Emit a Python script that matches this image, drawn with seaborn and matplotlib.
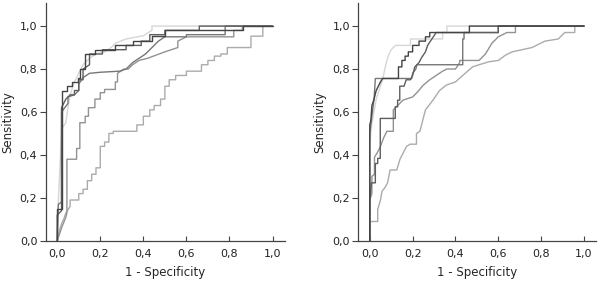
import numpy as np
import pandas as pd
import matplotlib
matplotlib.use("Agg")
import matplotlib.pyplot as plt
import seaborn as sns

# --- dados (ROC) ---
ticks = [0.0, 0.2, 0.4, 0.6, 0.8, 1.0]
tick_labels = ["0,0", "0,2", "0,4", "0,6", "0,8", "1,0"]

# painel esquerdo
esq_a_x = [0, 0, 0.02, 0.02, 0.045, 0.045, 0.07, 0.07, 0.095, 0.095, 0.105, 0.105, 0.128, 0.128,
           0.175, 0.175, 0.27, 0.27, 0.35, 0.35, 0.44, 0.44, 0.50, 0.50, 0.865, 0.865, 1.0]
esq_a_y = [0, 0.15, 0.15, 0.70, 0.70, 0.72, 0.72, 0.74, 0.74, 0.76, 0.76, 0.80, 0.80, 0.87,
           0.87, 0.89, 0.89, 0.91, 0.91, 0.93, 0.93, 0.955, 0.955, 0.98, 0.98, 1.0, 1.0]

esq_b_x = [0, 0, 0.02, 0.02, 0.04, 0.06, 0.08, 0.08, 0.10, 0.10, 0.12, 0.12, 0.15, 0.15,
           0.21, 0.21, 0.32, 0.32, 0.39, 0.39, 0.43, 0.43, 0.50, 0.50, 0.66, 0.66, 1.0]
esq_b_y = [0, 0.12, 0.14, 0.62, 0.66, 0.68, 0.68, 0.70, 0.70, 0.75, 0.75, 0.80, 0.82, 0.87,
           0.87, 0.89, 0.89, 0.91, 0.91, 0.93, 0.93, 0.96, 0.96, 0.98, 0.98, 1.0, 1.0]

esq_c_x = [0, 0.005, 0.02, 0.02, 0.05, 0.05, 0.08, 0.10, 0.10, 0.12, 0.15, 0.20, 0.29, 0.32,
           0.35, 0.38, 0.41, 0.44, 0.47, 0.50, 0.60, 0.60, 0.78, 0.78, 1.0]
esq_c_y = [0, 0.17, 0.18, 0.60, 0.64, 0.67, 0.68, 0.70, 0.73, 0.76, 0.78, 0.785, 0.79, 0.80,
           0.83, 0.85, 0.87, 0.90, 0.93, 0.95, 0.95, 0.96, 0.96, 1.0, 1.0]

esq_d_x = [0, 0.02, 0.04, 0.045, 0.045, 0.09, 0.09, 0.105, 0.105, 0.13, 0.13, 0.145, 0.145,
           0.175, 0.175, 0.2, 0.2, 0.22, 0.22, 0.27, 0.27, 0.28, 0.28, 0.31, 0.33, 0.35, 0.38,
           0.42, 0.46, 0.5, 0.53, 0.56, 0.56, 0.6, 0.82, 0.82, 0.86, 0.86, 1.0]
esq_d_y = [0, 0.06, 0.11, 0.13, 0.38, 0.38, 0.43, 0.43, 0.55, 0.55, 0.58, 0.58, 0.62,
           0.62, 0.66, 0.66, 0.69, 0.69, 0.705, 0.705, 0.74, 0.74, 0.78, 0.80, 0.80, 0.82, 0.84,
           0.85, 0.865, 0.88, 0.89, 0.90, 0.93, 0.95, 0.95, 0.98, 0.98, 1.0, 1.0]

esq_e_x = [0, 0.005, 0.02, 0.03, 0.04, 0.06, 0.06, 0.10, 0.10, 0.12, 0.12, 0.14, 0.14, 0.16,
           0.16, 0.18, 0.18, 0.20, 0.20, 0.22, 0.22, 0.24, 0.24, 0.26, 0.26, 0.37, 0.37, 0.40,
           0.40, 0.43, 0.43, 0.45, 0.45, 0.48, 0.48, 0.50, 0.50, 0.52, 0.52, 0.55, 0.55, 0.60,
           0.60, 0.67, 0.67, 0.70, 0.70, 0.73, 0.73, 0.76, 0.76, 0.79, 0.79, 0.81, 0.81, 0.90,
           0.90, 0.955, 0.955, 1.0]
esq_e_y = [0, 0.03, 0.08, 0.10, 0.13, 0.16, 0.19, 0.19, 0.22, 0.22, 0.24, 0.24, 0.28, 0.28,
           0.31, 0.31, 0.34, 0.34, 0.44, 0.44, 0.46, 0.46, 0.50, 0.50, 0.51, 0.51, 0.54, 0.54,
           0.58, 0.58, 0.61, 0.61, 0.63, 0.63, 0.66, 0.66, 0.72, 0.72, 0.75, 0.75, 0.77, 0.77,
           0.79, 0.79, 0.82, 0.82, 0.84, 0.84, 0.86, 0.86, 0.87, 0.87, 0.90, 0.90, 0.90, 0.90,
           0.953, 0.953, 1.0, 1.0]

esq_f_x = [0, 0.005, 0.02, 0.02, 0.04, 0.05, 0.06, 0.08, 0.10, 0.12, 0.15, 0.18, 0.22, 0.25,
           0.27, 0.32, 0.40, 0.44, 0.44, 1.0]
esq_f_y = [0, 0.18, 0.50, 0.52, 0.55, 0.62, 0.68, 0.74, 0.78, 0.82, 0.85, 0.87, 0.88, 0.90,
           0.92, 0.94, 0.955, 0.98, 1.0, 1.0]

# painel direito
dir_a_x = [0, 0, 0.005, 0.01, 0.02, 0.03, 0.04, 0.05, 0.06, 0.134, 0.134, 0.15, 0.15, 0.165,
           0.165, 0.18, 0.18, 0.20, 0.20, 0.23, 0.23, 0.26, 0.26, 0.28, 0.28, 0.465, 0.465, 1.0]
dir_a_y = [0, 0.54, 0.56, 0.63, 0.66, 0.70, 0.72, 0.74, 0.756, 0.756, 0.81, 0.81, 0.84, 0.84,
           0.86, 0.86, 0.88, 0.88, 0.91, 0.91, 0.93, 0.93, 0.95, 0.95, 0.97, 0.97, 1.0, 1.0]

dir_b_x = [0, 0, 0.01, 0.02, 0.026, 0.196, 0.20, 0.215, 0.22, 0.434, 0.434, 0.44, 0.44, 0.60,
           0.60, 1.0]
dir_b_y = [0, 0.50, 0.58, 0.66, 0.756, 0.756, 0.78, 0.80, 0.82, 0.82, 0.94, 0.94, 0.97, 0.97,
           1.0, 1.0]

dir_c_x = [0, 0, 0.008, 0.026, 0.026, 0.037, 0.037, 0.049, 0.049, 0.119, 0.119, 0.13, 0.13,
           0.14, 0.14, 0.16, 0.17, 0.19, 0.20, 0.21, 0.23, 0.24, 0.26, 0.27, 0.29, 0.31, 0.60,
           0.60, 1.0]
dir_c_y = [0, 0.19, 0.27, 0.27, 0.36, 0.36, 0.384, 0.384, 0.57, 0.57, 0.624, 0.624, 0.655,
           0.655, 0.72, 0.72, 0.75, 0.75, 0.77, 0.81, 0.83, 0.85, 0.88, 0.91, 0.94, 0.97, 0.97,
           1.0, 1.0]

dir_d_x = [0, 0, 0.01, 0.01, 0.022, 0.022, 0.035, 0.05, 0.065, 0.08, 0.11, 0.11, 0.14, 0.155,
           0.17, 0.2, 0.22, 0.25, 0.28, 0.31, 0.34, 0.36, 0.40, 0.42, 0.42, 0.51, 0.54, 0.57,
           0.60, 0.64, 0.68, 0.68, 1.0]
dir_d_y = [0, 0.19, 0.22, 0.30, 0.31, 0.39, 0.41, 0.44, 0.48, 0.51, 0.51, 0.61, 0.64, 0.655,
           0.66, 0.67, 0.69, 0.725, 0.75, 0.77, 0.79, 0.80, 0.80, 0.83, 0.84, 0.84, 0.87, 0.92,
           0.95, 0.97, 0.97, 1.0, 1.0]

dir_e_x = [0, 0, 0.037, 0.037, 0.05, 0.057, 0.072, 0.083, 0.095, 0.126, 0.141, 0.172, 0.188,
           0.218, 0.218, 0.234, 0.26, 0.295, 0.326, 0.357, 0.40, 0.434, 0.48, 0.51, 0.557,
           0.60, 0.634, 0.665, 0.757, 0.818, 0.88, 0.91, 0.957, 0.957, 1.0]
dir_e_y = [0, 0.09, 0.09, 0.146, 0.19, 0.23, 0.25, 0.27, 0.33, 0.33, 0.38, 0.44, 0.45,
           0.45, 0.50, 0.51, 0.61, 0.655, 0.70, 0.725, 0.74, 0.77, 0.81, 0.82, 0.834,
           0.84, 0.865, 0.88, 0.90, 0.93, 0.94, 0.97, 0.97, 1.0, 1.0]

dir_f_x = [0, 0, 0.01, 0.02, 0.03, 0.05, 0.06, 0.07, 0.08, 0.09, 0.10, 0.12, 0.19, 0.19,
           0.34, 0.34, 0.36, 0.36, 1.0]
dir_f_y = [0, 0.45, 0.55, 0.60, 0.66, 0.72, 0.75, 0.80, 0.84, 0.87, 0.89, 0.91, 0.91, 0.94,
           0.94, 0.97, 0.97, 1.0, 1.0]

cores = ["#444444", "#5e5e5e", "#767676", "#929292", "#ababab", "#d6d6d6"]

paineis = [
    [(esq_a_x, esq_a_y), (esq_b_x, esq_b_y), (esq_c_x, esq_c_y),
     (esq_d_x, esq_d_y), (esq_e_x, esq_e_y), (esq_f_x, esq_f_y)],
    [(dir_a_x, dir_a_y), (dir_c_x, dir_c_y), (dir_b_x, dir_b_y),
     (dir_d_x, dir_d_y), (dir_e_x, dir_e_y), (dir_f_x, dir_f_y)],
]

sns.set_style("ticks")
plt.rcParams["font.family"] = ["DejaVu Sans"]

fig = plt.figure(figsize=(6.0, 2.82), dpi=100)
posicoes = [[0.076, 0.146, 0.399, 0.843], [0.597, 0.146, 0.397, 0.843]]

for pos, curvas in zip(posicoes, paineis):
    ax = fig.add_axes(pos)
    # desenha das mais claras para as mais escuras
    for (xs, ys), cor in reversed(list(zip(curvas, cores))):
        assert len(xs) == len(ys)
        sns.lineplot(x=xs, y=ys, sort=False, estimator=None, color=cor, lw=1.0, ax=ax)
    ax.set_xlim(-0.054, 1.058)
    ax.set_ylim(0, 1.107)
    ax.set_xticks(ticks)
    ax.set_xticklabels(tick_labels, fontsize=8, color="#222222")
    ax.set_yticks(ticks)
    ax.set_yticklabels(tick_labels, fontsize=8, color="#222222")
    ax.tick_params(axis="x", direction="in", length=3.5, width=0.8, pad=6, color="#444444")
    ax.tick_params(axis="y", direction="out", length=4, width=0.8, pad=2, color="#444444")
    for s in ["top", "right"]:
        ax.spines[s].set_visible(False)
    for s in ["left", "bottom"]:
        ax.spines[s].set_color("#444444")
        ax.spines[s].set_linewidth(0.9)
    ax.set_xlabel("1 - Specificity", fontsize=8.5, labelpad=5)
    ax.set_ylabel("Sensitivity", fontsize=8.5, labelpad=4)

fig.savefig("out.png", dpi=100)
